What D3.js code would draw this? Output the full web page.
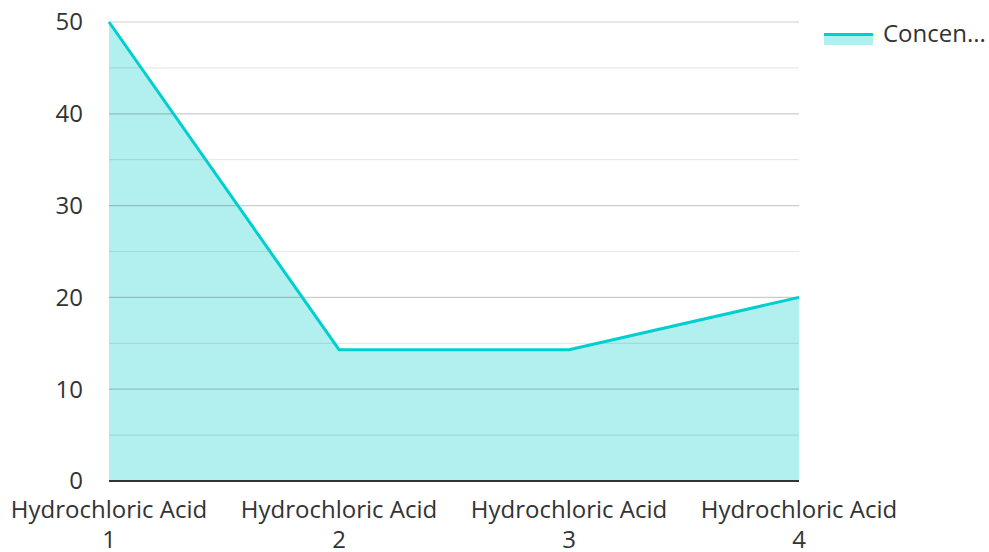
<!DOCTYPE html>
<html>
<head>
<meta charset="utf-8">
<script src="https://cdn.jsdelivr.net/npm/d3@7"></script>
<style>
  body { margin: 0; background: #fff; }
  text { font-family: "Open Sans", "Noto Sans", sans-serif; fill: #333; }
</style>
</head>
<body>
<div id="chart"></div>
<script>
// data
const categories = ["Hydrochloric Acid 1", "Hydrochloric Acid 2", "Hydrochloric Acid 3", "Hydrochloric Acid 4"];
const concentration = [50, 14.3, 14.3, 20];
const yTicks = [0, 10, 20, 30, 40, 50];
const seriesName = "Concen...";

const width = 989, height = 552,
  margin = { top: 22, right: 190, bottom: 71, left: 109 };

const svg = d3.select("#chart").append("svg")
  .attr("width", width)
  .attr("height", height);

const x = d3.scalePoint()
  .domain(categories)
  .range([margin.left, width - margin.right]);

const y = d3.scaleLinear()
  .domain([0, 50])
  .range([height - margin.bottom, margin.top]);

const pts = categories.map((c, i) => [x(c), y(concentration[i])]);

// area first, grid drawn on top so it shows through
svg.append("path")
  .datum(pts)
  .attr("fill", "#b2efef")
  .attr("d", d3.area().x(d => d[0]).y0(y(0)).y1(d => d[1]));

// minor + major gridlines
const grid = d3.range(5, 50, 5).concat([50]);
svg.selectAll(".grid")
  .data(grid)
  .join("line")
  .attr("x1", margin.left).attr("x2", width - margin.right)
  .attr("y1", d => y(d)).attr("y2", d => y(d))
  .attr("stroke", "#000")
  .attr("stroke-opacity", d => d % 10 === 0 ? 0.2 : 0.09)
  .attr("stroke-width", 1.2);

svg.append("path")
  .datum(pts)
  .attr("fill", "none")
  .attr("stroke", "#00cfcf")
  .attr("stroke-width", 3)
  .attr("stroke-linejoin", "round")
  .attr("d", d3.line().x(d => d[0]).y(d => d[1]));

// baseline
svg.append("line")
  .attr("x1", margin.left).attr("x2", width - margin.right)
  .attr("y1", y(0)).attr("y2", y(0))
  .attr("stroke", "#333").attr("stroke-width", 2);

// y labels
svg.selectAll(".ylab")
  .data(yTicks)
  .join("text")
  .attr("x", 83)
  .attr("y", d => y(d))
  .attr("dy", "0.35em")
  .attr("text-anchor", "end")
  .attr("font-size", 24)
  .text(d => d);

// x labels, split last word onto second line
const xl = svg.selectAll(".xlab")
  .data(categories)
  .join("text")
  .attr("text-anchor", "middle")
  .attr("font-size", 24)
  .attr("transform", d => `translate(${x(d)},${y(0)})`);
xl.append("tspan").attr("x", 0).attr("y", 37)
  .text(d => d.slice(0, d.lastIndexOf(" ")));
xl.append("tspan").attr("x", 0).attr("y", 67)
  .text(d => d.slice(d.lastIndexOf(" ") + 1));

// legend
const lg = svg.append("g").attr("transform", "translate(824,33)");
lg.append("rect").attr("x", 0).attr("y", 0).attr("width", 49).attr("height", 12).attr("fill", "#b2efef");
lg.append("line").attr("x1", 0).attr("x2", 49).attr("y1", 1.5).attr("y2", 1.5)
  .attr("stroke", "#00cfcf").attr("stroke-width", 3);
lg.append("text").attr("x", 59).attr("y", 1).attr("dy", "0.35em")
  .attr("font-size", 24).text(seriesName);
</script>
</body>
</html>
